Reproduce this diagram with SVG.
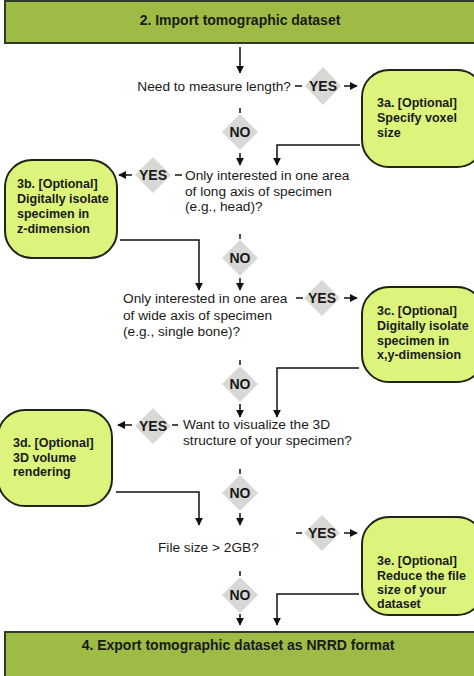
<svg xmlns="http://www.w3.org/2000/svg" width="474" height="676" viewBox="0 0 474 676">
<style>
.main{fill:#9dbb45;stroke:#2f3a28;stroke-width:2}
.opt{fill:#dcf47c;stroke:#1e2416;stroke-width:2}
.dia{fill:#d8d8d4}
.q{font-family:"Liberation Sans",Arial,sans-serif;font-size:13.7px;fill:#1a1a1a}
.b{font-family:"Liberation Sans",Arial,sans-serif;font-size:12.5px;font-weight:bold;fill:#1a1a1a}
.h{font-family:"Liberation Sans",Arial,sans-serif;font-size:14px;font-weight:bold;fill:#1a1a1a;text-anchor:middle}
.yn{font-family:"Liberation Sans",Arial,sans-serif;font-size:14px;font-weight:bold;fill:#1a1a1a;text-anchor:middle}
.c{fill:none;stroke:#111;stroke-width:1.5}
</style>
<defs>
<marker id="ah" viewBox="0 0 10 10" refX="9" refY="5" markerWidth="8" markerHeight="8" markerUnits="userSpaceOnUse" orient="auto">
<path d="M0,0 L10,5 L0,10 z" fill="#111"/>
</marker>
</defs>

<g id="n2">
<rect class="main" x="5" y="1" width="476" height="42"/>
<text class="h" x="240" y="25">2. Import tomographic dataset</text>
</g>

<g id="q1">
<text class="q" x="291" y="91" text-anchor="end">Need to measure length?</text>
</g>
<g id="q1yes"><path class="dia" d="M323,67 L341,86 L323,105 L305,86 z"/><text class="yn" x="323" y="91">YES</text></g>
<g id="q1no"><path class="dia" d="M240,114 L258,132 L240,150 L222,132 z"/><text class="yn" x="240" y="137">NO</text></g>

<g id="n3a">
<rect class="opt" x="362" y="70" width="122" height="97" rx="27"/>
<text class="b" x="377" y="107">3a. [Optional]</text>
<text class="b" x="377" y="122">Specify voxel</text>
<text class="b" x="377" y="137">size</text>
</g>

<g id="q2">
<text class="q" x="185" y="180">Only interested in one area</text>
<text class="q" x="185" y="196">of long axis of specimen</text>
<text class="q" x="185" y="211">(e.g., head)?</text>
</g>
<g id="q2yes"><path class="dia" d="M153,157 L171,175 L153,193 L135,175 z"/><text class="yn" x="153" y="180">YES</text></g>
<g id="q2no"><path class="dia" d="M240,240 L258,258 L240,276 L222,258 z"/><text class="yn" x="240" y="263">NO</text></g>

<g id="n3b">
<rect class="opt" x="5" y="160" width="112" height="98" rx="27"/>
<text class="b" x="17" y="188">3b. [Optional]</text>
<text class="b" x="17" y="203">Digitally isolate</text>
<text class="b" x="17" y="218">specimen in</text>
<text class="b" x="17" y="233">z-dimension</text>
</g>

<g id="q3">
<text class="q" x="123" y="303">Only interested in one area</text>
<text class="q" x="123" y="320">of wide axis of specimen</text>
<text class="q" x="123" y="336">(e.g., single bone)?</text>
</g>
<g id="q3yes"><path class="dia" d="M322,280 L340,298 L322,316 L304,298 z"/><text class="yn" x="322" y="303">YES</text></g>
<g id="q3no"><path class="dia" d="M240,366 L258,384 L240,402 L222,384 z"/><text class="yn" x="240" y="389">NO</text></g>

<g id="n3c">
<rect class="opt" x="362" y="287" width="122" height="95" rx="27"/>
<text class="b" x="377" y="315">3c. [Optional]</text>
<text class="b" x="377" y="330">Digitally isolate</text>
<text class="b" x="377" y="345">specimen in</text>
<text class="b" x="377" y="359">x,y-dimension</text>
</g>

<g id="q4">
<text class="q" x="183" y="429">Want to visualize the 3D</text>
<text class="q" x="183" y="445">structure of your specimen?</text>
</g>
<g id="q4yes"><path class="dia" d="M153,408 L171,426 L153,444 L135,426 z"/><text class="yn" x="153" y="431">YES</text></g>
<g id="q4no"><path class="dia" d="M240,475 L258,493 L240,511 L222,493 z"/><text class="yn" x="240" y="498">NO</text></g>

<g id="n3d">
<rect class="opt" x="-2" y="410" width="114" height="96" rx="27"/>
<text class="b" x="13" y="447">3d. [Optional]</text>
<text class="b" x="13" y="462">3D volume</text>
<text class="b" x="13" y="476">rendering</text>
</g>

<g id="q5">
<text class="q" x="158" y="552">File size &gt; 2GB?</text>
</g>
<g id="q5yes"><path class="dia" d="M322,515 L340,533 L322,551 L304,533 z"/><text class="yn" x="322" y="538">YES</text></g>
<g id="q5no"><path class="dia" d="M240,577 L258,595 L240,613 L222,595 z"/><text class="yn" x="240" y="600">NO</text></g>

<g id="n3e">
<rect class="opt" x="362" y="517" width="122" height="98" rx="27"/>
<text class="b" x="377" y="565">3e. [Optional]</text>
<text class="b" x="377" y="580">Reduce the file</text>
<text class="b" x="377" y="594">size of your</text>
<text class="b" x="377" y="608">dataset</text>
</g>

<g id="n4">
<rect class="main" x="5" y="632" width="476" height="50"/>
<text class="h" x="238" y="650">4. Export tomographic dataset as NRRD format</text>
</g>

<g id="connectors">
<path class="c" d="M240,47 L240,73" marker-end="url(#ah)"/>
<path class="c" d="M295,86 L302,86"/>
<path class="c" d="M344,86 L357,86" marker-end="url(#ah)"/>
<path class="c" d="M240,108 L240,113"/>
<path class="c" d="M240,153 L240,165" marker-end="url(#ah)"/>
<path class="c" d="M360,145 L277,145 L277,165" marker-end="url(#ah)"/>

<path class="c" d="M175,175 L182,175"/>
<path class="c" d="M132,175 L119,175" marker-end="url(#ah)"/>
<path class="c" d="M240,234 L240,239"/>
<path class="c" d="M240,278 L240,290" marker-end="url(#ah)"/>
<path class="c" d="M120,240 L199,240 L199,290" marker-end="url(#ah)"/>

<path class="c" d="M296,298 L303,298"/>
<path class="c" d="M344,298 L357,298" marker-end="url(#ah)"/>
<path class="c" d="M240,360 L240,365"/>
<path class="c" d="M240,404 L240,417" marker-end="url(#ah)"/>
<path class="c" d="M359,368 L277,368 L277,417" marker-end="url(#ah)"/>

<path class="c" d="M172,425 L178,425"/>
<path class="c" d="M132,425 L118,425" marker-end="url(#ah)"/>
<path class="c" d="M240,469 L240,474"/>
<path class="c" d="M240,513 L240,525" marker-end="url(#ah)"/>
<path class="c" d="M116,492 L199,492 L199,525" marker-end="url(#ah)"/>

<path class="c" d="M296,533 L302,533"/>
<path class="c" d="M344,533 L357,533" marker-end="url(#ah)"/>
<path class="c" d="M240,571 L240,576"/>
<path class="c" d="M240,614 L240,625" marker-end="url(#ah)"/>
<path class="c" d="M359,594 L277,594 L277,625" marker-end="url(#ah)"/>
</g>
</svg>
